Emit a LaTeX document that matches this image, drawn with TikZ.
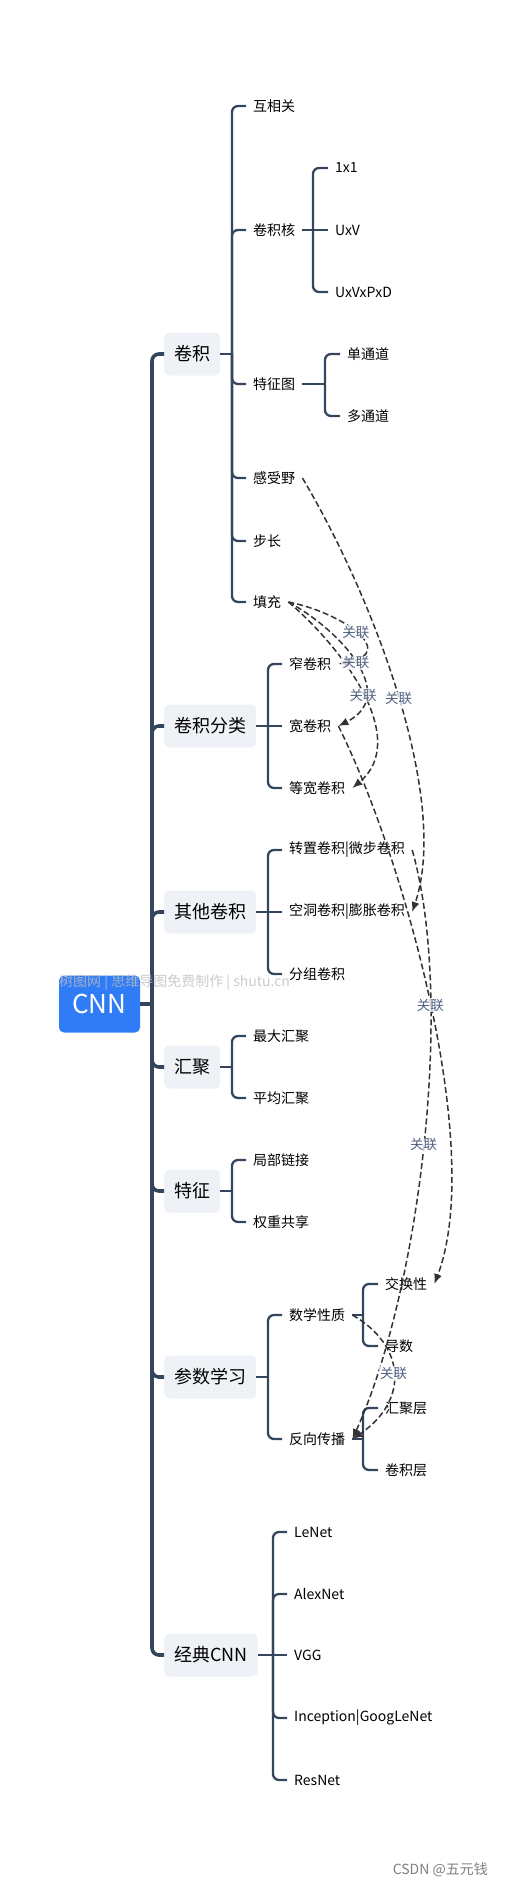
\documentclass[tikz,border=0pt]{standalone}
\usepackage{fontspec}
\setmainfont{Noto Sans CJK SC}
\usetikzlibrary{arrows.meta}
\definecolor{linec}{RGB}{52,69,94}
\definecolor{boxc}{RGB}{238,241,245}
\definecolor{rootc}{RGB}{47,124,246}
\definecolor{relc}{RGB}{51,51,51}
\definecolor{tagc}{RGB}{80,96,128}
\definecolor{markc}{RGB}{190,190,190}
\begin{document}
\begin{tikzpicture}[x=1pt, y=-1pt,
			root/.style = {fill=rootc, text=white, rounded corners=5pt, minimum width=81pt, minimum height=57pt, font=\fontsize{26}{28}\selectfont},
			topic/.style = {fill=boxc, rounded corners=5pt, inner xsep=10pt, minimum height=43pt, anchor=west, font=\fontsize{18}{20}\selectfont},
			leaf/.style = {inner xsep=7pt, inner ysep=2pt, anchor=west, font=\fontsize{14}{16}\selectfont},
			trunk/.style = {draw=linec, line width=3.6pt, rounded corners=7pt},
			twig/.style = {draw=linec, line width=2.3pt, rounded corners=6pt},
			rel/.style = {draw=relc, line width=1.5pt, dash pattern=on 6pt off 3pt, -{Latex[length=10pt, width=8pt]}},
			tag/.style = {fill=white, fill opacity=0.75, text opacity=1, text=tagc, inner sep=1pt, font=\fontsize{13.5}{15}\selectfont}]
			\useasboundingbox (0,0) rectangle (504,1886);
			\node[root] (cnn) at (99.5,1004) {CNN};
			\foreach \n/\y/\t in {jj/354/卷积, fl/726/卷积分类, qt/912/其他卷积, hj/1067/汇聚, tz/1191/特征, cs/1377/参数学习, jd/1655/经典CNN}
				\node[topic] (\n) at (164,\y) {\t};
			\foreach \n/\y/\t in {hx/106/互相关, jjh/230/卷积核, tzt/384/特征图, gsy/478/感受野, bc/541/步长, tc/602/填充, zdhj/1036/最大汇聚, pjhj/1098/平均汇聚, jblj/1160/局部链接, qzgx/1222/权重共享}
				\node[leaf] (\n) at (246,\y) {\t};
			\foreach \n/\y/\t in {k1/168/1x1, k2/230/UxV, k3/292/UxVxPxD}
				\node[leaf] (\n) at (328,\y) {\t};
			\foreach \n/\y/\t in {dtd/354/单通道, ddd/416/多通道}
				\node[leaf] (\n) at (340,\y) {\t};
			\foreach \n/\y/\t in {zj/664/窄卷积, kj/726/宽卷积, dkj/788/等宽卷积, zzj/850/转置卷积|微步卷积, kdj/912/空洞卷积|膨胀卷积, fzj/974/分组卷积, sxxz/1315/数学性质, fxcb/1439/反向传播}
				\node[leaf] (\n) at (282,\y) {\t};
			\foreach \n/\y/\t in {jhx/1284/交换性, ds/1346/导数, hjc/1408/汇聚层, jjc/1470/卷积层}
				\node[leaf] (\n) at (378,\y) {\t};
			\foreach \n/\y/\t in {lenet/1532/LeNet, alex/1594/AlexNet, vgg/1655/VGG, incep/1718/Inception|GoogLeNet, resnet/1780/ResNet}
				\node[leaf] (\n) at (287,\y) {\t};

			\coordinate (hub) at (152,1004);
			\draw[trunk] (cnn.east) -- (hub);
			\draw[trunk] (jj.west) -| (hub) |- (jd.west);
			\foreach \n in {fl,qt}
				\draw[trunk] (\n.west) -| ([yshift=-12pt]hub |- \n.west);
			\foreach \n in {hj,tz,cs}
				\draw[trunk] (\n.west) -| ([yshift=12pt]hub |- \n.west);

			\coordinate (jjb) at (232,354);
			\draw[twig] (jj.east) -- (jjb);
			\foreach \n in {hx,jjh,tzt,gsy,bc,tc} \draw[twig] (jjb) |- (\n.west);
			\coordinate (jjhb) at (313,230);
			\draw[twig] (jjh.east) -- (k2.west);
			\foreach \n in {k1,k3} \draw[twig] (jjhb) |- (\n.west);
			\coordinate (tztb) at (325,384);
			\draw[twig] (tzt.east) -- (tztb);
			\foreach \n in {dtd,ddd} \draw[twig] (tztb) |- (\n.west);
			\coordinate (flb) at (268,726);
			\draw[twig] (fl.east) -- (kj.west);
			\foreach \n in {zj,dkj} \draw[twig] (flb) |- (\n.west);
			\coordinate (qtb) at (268,912);
			\draw[twig] (qt.east) -- (kdj.west);
			\foreach \n in {zzj,fzj} \draw[twig] (qtb) |- (\n.west);
			\coordinate (hjb) at (232,1067);
			\draw[twig] (hj.east) -- (hjb);
			\foreach \n in {zdhj,pjhj} \draw[twig] (hjb) |- (\n.west);
			\coordinate (tzb) at (232,1191);
			\draw[twig] (tz.east) -- (tzb);
			\foreach \n in {jblj,qzgx} \draw[twig] (tzb) |- (\n.west);
			\coordinate (csb) at (268,1377);
			\draw[twig] (cs.east) -- (csb);
			\foreach \n in {sxxz,fxcb} \draw[twig] (csb) |- (\n.west);
			\coordinate (sxxzb) at (363,1315);
			\draw[twig] (sxxz.east) -- (sxxzb);
			\foreach \n in {jhx,ds} \draw[twig] (sxxzb) |- (\n.west);
			\coordinate (fxcbb) at (363,1439);
			\draw[twig] (fxcb.east) -- (fxcbb);
			\foreach \n in {hjc,jjc} \draw[twig] (fxcbb) |- (\n.west);
			\coordinate (jdb) at (273,1655);
			\draw[twig] (jd.east) -- (vgg.west);
			\foreach \n in {lenet,alex,incep,resnet} \draw[twig] (jdb) |- (\n.west);

			\draw[rel] (tc.east) .. controls (340,612) and (400,652) .. (zj.east) coordinate[pos=0.5] (r1);
			\draw[rel] (tc.east) .. controls (340,630) and (400,695) .. (kj.east) coordinate[pos=0.5] (r2);
			\draw[rel] (tc.east) .. controls (345,650) and (410,740) .. (dkj.east) coordinate[pos=0.5] (r3);
			\draw[rel] (gsy.east) .. controls (375,600) and (450,800) .. (kdj.east) coordinate[pos=0.5] (r4);
			\draw[rel] (kj.east) .. controls (405,860) and (485,1150) .. (jhx.east) coordinate[pos=0.5] (r5);
			\draw[rel] (zzj.east) .. controls (455,1000) and (420,1290) .. (fxcb.east) coordinate[pos=0.5] (r6);
			\draw[rel] (sxxz.east) .. controls (405,1345) and (410,1400) .. (fxcb.east) coordinate[pos=0.5] (r7);
			\foreach \r in {1,...,7}
				\node[tag] (t\r) at (r\r) {关联};

			\node[anchor=west, inner sep=0pt, text=markc, text opacity=0.8, font=\fontsize{14}{16}\selectfont] (mark) at (59,983) {树图网 | 思维导图免费制作 | shutu.cn};
			\node[anchor=east, inner sep=0pt, text=gray, font=\fontsize{14}{16}\selectfont] (csdn) at (488,1870) {CSDN @五元钱};
\end{tikzpicture}
\end{document}
